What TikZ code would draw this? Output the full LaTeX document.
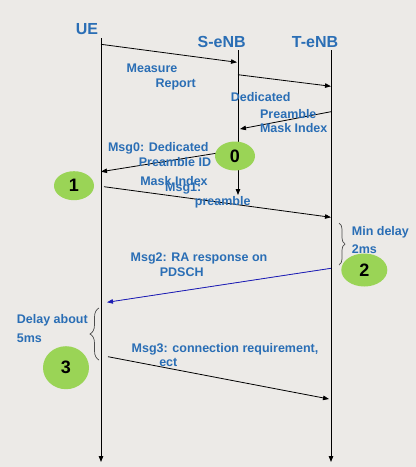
\documentclass[tikz,border=0pt]{standalone}
\usepackage{fontspec}
\setmainfont{Liberation Sans}
\usetikzlibrary{arrows.meta,decorations.pathreplacing,shapes.geometric}
\definecolor{bg}{HTML}{ECEAE7}
\definecolor{txt}{HTML}{2A6EB5}
\definecolor{grn}{HTML}{9AD456}
\definecolor{msgblue}{HTML}{1C1CB4}
\begin{document}
\begin{tikzpicture}[x=1pt,y=-1pt,
  lbl/.style={text=txt,font=\bfseries\fontsize{12.5}{14}\selectfont,inner sep=0pt,anchor=base},
  lblw/.style={lbl,anchor=base west},
  hdr/.style={text=txt,font=\bfseries\fontsize{16}{18}\selectfont,inner sep=0pt},
  num/.style={ellipse,fill=grn,inner sep=0pt,font=\bfseries\fontsize{18}{20}\selectfont},
  msg/.style={-{Triangle[length=6pt,width=4.5pt]},line width=0.8pt},
  life/.style={-{Triangle[length=6pt,width=4.5pt]},line width=0.8pt},
  brc/.style={decorate,line width=0.7pt,draw=black!70}
]
\path[fill=bg] (0,0) rectangle (416,467);
\useasboundingbox (0,0) rectangle (416,467);

% headers
\node[hdr] (ue) at (87,29) {UE};
\node[hdr] (senb) at (221.7,41.7) {S-eNB};
\node[hdr] (tenb) at (315,41.7) {T-eNB};

% lifeline coordinates
\coordinate (ueT) at (101,38);
\coordinate (ueB) at (101,462);
\coordinate (sT) at (238,50);
\coordinate (sB) at (238,195);
\coordinate (tT) at (331,50);
\coordinate (tB) at (331,462);

\draw[life] (ueT) -- (ueB);
\draw[life] (sT) -- (sB);
\draw[life] (tT) -- (tB);

% message endpoints
\coordinate (m1a) at (101,44.3);   \coordinate (m1b) at (237,62.3);
\coordinate (m2a) at (238,74.7);   \coordinate (m2b) at (331,86.3);
\coordinate (m3a) at (331,111.7);  \coordinate (m3b) at (240,129);
\coordinate (m4a) at (216,153.3);  \coordinate (m4b) at (101,171.7);
\coordinate (m5a) at (104,186.7);  \coordinate (m5b) at (331,217.3);
\coordinate (m6a) at (331,268.3);  \coordinate (m6b) at (107,302.3);
\coordinate (m7a) at (108,356.7);  \coordinate (m7b) at (329,399);

\draw[msg] (m1a) -- (m1b);
\draw[msg] (m2a) -- (m2b);
\draw[msg] (m3a) -- (m3b);
\draw[msg] (m4a) -- (m4b);
\draw[msg] (m5a) -- (m5b);
\draw[msg,draw=msgblue,fill=msgblue] (m6a) -- (m6b);
\draw[msg] (m7a) -- (m7b);

% braces
\coordinate (br1a) at (339,223);  \coordinate (br1b) at (339,265);
\coordinate (br2a) at (99,360);   \coordinate (br2b) at (99,308);
\draw[brc,decoration={brace,amplitude=6pt}] (br1a) -- (br1b);
\draw[brc,decoration={brace,amplitude=9pt}] (br2a) -- (br2b);

% circles
\node[num,minimum width=40pt,minimum height=29pt] (c0) at (235,156) {0};
\node[num,minimum width=40pt,minimum height=29pt] (c1) at (74,185.7) {1};
\node[num,minimum width=46pt,minimum height=33pt] (c2) at (364.3,270) {2};
\node[num,minimum width=46pt,minimum height=43pt] (c3) at (66,367.7) {3};

% labels
\node[lbl] (l1) at (152,72.2) {Measure};
\node[lbl] (l2) at (175.7,87.8) {Report};
\node[lbl] (l3) at (260.7,101.8) {Dedicated};
\node[lbl] (l4) at (288.3,118.2) {Preamble};
\node[lbl] (l5) at (293.7,132.8) {Mask Index};
\node[lbl] (l6) at (158.3,151.2) {Msg0: Dedicated};
\node[lbl] (l7) at (175,166.8) {Preamble ID};
\node[lbl] (l8) at (174,185.2) {Mask Index};
\node[lbl] (l9) at (183.3,191.2) {Msg1:};
\node[lbl] (l10) at (222.7,205.5) {preamble};
\node[lblw] (l11) at (351.7,235.2) {Min delay};
\node[lblw] (l12) at (351.7,253.8) {2ms};
\node[lbl] (l13) at (199,261.2) {Msg2: RA response on};
\node[lbl] (l14) at (181.7,276.2) {PDSCH};
\node[lblw] (l15) at (16.7,323.8) {Delay about};
\node[lblw] (l16) at (16.7,342.8) {5ms};
\node[lbl] (l17) at (225,352.2) {Msg3: connection requirement,};
\node[lbl] (l18) at (168.3,366.5) {ect};
\end{tikzpicture}
\end{document}
